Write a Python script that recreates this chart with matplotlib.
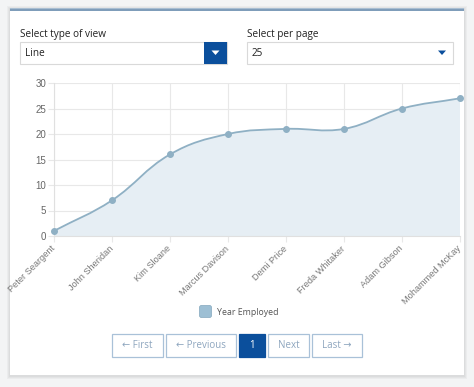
import numpy as np
import matplotlib
matplotlib.use("Agg")
import matplotlib.pyplot as plt
from matplotlib.patches import Rectangle, FancyBboxPatch, Polygon, PathPatch
from matplotlib.path import Path

# data
names = ["Peter Seargent", "John Sheridan", "Kim Sloane", "Marcus Davison",
         "Demi Price", "Freda Whitaker", "Adam Gibson", "Mohammed McKay"]
years = [1, 7, 16, 20, 21, 21, 25, 27]
y_ticks = [0, 5, 10, 15, 20, 25, 30]
series_label = "Year Employed"
view_label = "Select type of view"
view_value = "Line"
page_label = "Select per page"
page_value = "25"
pager = ["\u2190 First", "\u2190 Previous", "1", "Next", "Last \u2192"]

W, H = 474, 387
UI = ["Open Sans", "DejaVu Sans"]
CH = ["Liberation Sans", "DejaVu Sans"]
GRID = "#e8e8e8"
LINE = "#8fb0c4"
FILL = "#e6eef4"

fig = plt.figure(figsize=(W / 100, H / 100), dpi=100)
fig.patch.set_facecolor("#f3f4f5")

# page layer in pixel coords
bg = fig.add_axes([0, 0, 1, 1], zorder=0)
bg.set_xlim(0, W)
bg.set_ylim(H, 0)
bg.axis("off")

# card with soft shadow
for i, a in enumerate([0.03, 0.03, 0.03]):
    bg.add_patch(Rectangle((10 - i - 1, 8 - i), 454 + 2 * i + 2, 367 + 2 * i + 2,
                           color="black", alpha=a, lw=0))
bg.add_patch(Rectangle((10, 8), 454, 367, color="white", lw=0))
bg.add_patch(Rectangle((10, 8), 454, 3, color="#7f9dba", lw=0))
bg.add_patch(Rectangle((10, 8), 454, 1, color="#a9bed2", lw=0))

# dropdowns
bg.text(20, 34, view_label, family=UI, fontsize=7.2, color="#222222", va="center")
bg.add_patch(Rectangle((20, 42), 207, 22, fc="white", ec="#d9d9d9", lw=0.8))
bg.text(25, 53.5, view_value, family=UI, fontsize=7.2, color="#222222", va="center")
bg.add_patch(Rectangle((204, 42), 23, 22, fc="#0b4f9c", lw=0))
bg.add_patch(Polygon([(211.5, 50.5), (219.5, 50.5), (215.5, 55)], color="white", lw=0))

bg.text(247, 34, page_label, family=UI, fontsize=7.2, color="#222222", va="center")
bg.add_patch(Rectangle((247, 42), 206, 22, fc="white", ec="#d9d9d9", lw=0.8))
bg.text(252, 53.5, page_value, family=UI, fontsize=7.2, color="#222222", va="center")
bg.add_patch(Polygon([(438, 50.5), (446, 50.5), (442, 55)], color="#0b4f9c", lw=0))

# legend
bg.add_patch(FancyBboxPatch((199.5, 305.5), 12, 12, boxstyle="round,pad=0,rounding_size=2",
                            fc="#9dbfd4", ec="#8fb0c4", lw=0.6))
bg.text(217, 312.5, series_label, family=UI, fontsize=6.3, color="#555555", va="center")

# pager buttons
btn_x = [(112, 163), (166, 236), (239, 265), (268, 309), (312, 362)]
for (x0, x1), lab in zip(btn_x, pager):
    active = lab == "1"
    bg.add_patch(Rectangle((x0, 334), x1 - x0, 23,
                           fc="#0b4f9c" if active else "white",
                           ec="#0b4f9c" if active else "#a9c1d8", lw=0.9))
    bg.text((x0 + x1) / 2, 346, lab, family=UI, fontsize=7,
            color="white" if active else "#8ea6bf", ha="center", va="center")

# chart
x0p, x1p, y0p, y1p = 54, 460, 236, 83
ax = fig.add_axes([x0p / W, 1 - y0p / H, (x1p - x0p) / W, (y0p - y1p) / H], zorder=2)
ax.set_facecolor("none")
n = len(years)
xs = np.arange(n)
ax.set_xlim(0, n - 1)
ax.set_ylim(0, 30)
sx = (x1p - x0p) / (n - 1)
sy = (y0p - y1p) / 30.0

# bezier control points (tension 0.4), computed in pixel space
P = np.column_stack([xs * sx, np.array(years, float) * sy])
t = 0.4
cp_prev = np.zeros_like(P)
cp_next = np.zeros_like(P)
for i in range(n):
    p0 = P[i - 1] if i > 0 else P[i]
    p2 = P[i + 1] if i < n - 1 else P[i]
    d01 = np.hypot(*(P[i] - p0))
    d12 = np.hypot(*(p2 - P[i]))
    tot = d01 + d12
    s01 = d01 / tot if tot else 0
    s12 = d12 / tot if tot else 0
    cp_prev[i] = P[i] - t * s01 * (p2 - p0)
    cp_next[i] = P[i] + t * s12 * (p2 - p0)
scale = np.array([sx, sy])
P, cp_prev, cp_next = P / scale, cp_prev / scale, cp_next / scale
cp_prev[:, 1] = np.clip(cp_prev[:, 1], 0, 30)
cp_next[:, 1] = np.clip(cp_next[:, 1], 0, 30)

verts = [tuple(P[0])]
codes = [Path.MOVETO]
for i in range(n - 1):
    verts += [tuple(cp_next[i]), tuple(cp_prev[i + 1]), tuple(P[i + 1])]
    codes += [Path.CURVE4] * 3
line_path = Path(verts, codes)
fill_path = Path(verts + [(P[-1][0], 0), (P[0][0], 0), (P[0][0], P[0][1])],
                 codes + [Path.LINETO, Path.LINETO, Path.CLOSEPOLY])
ax.add_patch(PathPatch(fill_path, fc=FILL, lw=0, zorder=1))
ax.add_patch(PathPatch(line_path, fc="none", ec=LINE, lw=1.3, zorder=3))
ax.plot(xs, years, "o", ms=4, color=LINE, mec=LINE, zorder=4, clip_on=False)

ax.set_yticks(y_ticks)
ax.set_xticks(xs)
ax.set_xticklabels(names, rotation=45, ha="right", va="center",
                   rotation_mode="anchor", family=CH, fontsize=6.6, color="#777777")
for lab in ax.get_yticklabels():
    lab.set_family(CH)
ax.tick_params(axis="y", length=4, width=0.8, color=GRID, labelsize=7,
               labelcolor="#666666", pad=1.5)
ax.tick_params(axis="x", length=4, width=0.8, color=GRID, pad=4)
ax.grid(True, color=GRID, lw=0.8, zorder=0)
ax.set_axisbelow(True)
for s in ["top", "right"]:
    ax.spines[s].set_visible(False)
for s in ["left", "bottom"]:
    ax.spines[s].set_color("#e0e0e0")
    ax.spines[s].set_linewidth(0.8)

fig.savefig("out.png", dpi=100, facecolor=fig.get_facecolor())
